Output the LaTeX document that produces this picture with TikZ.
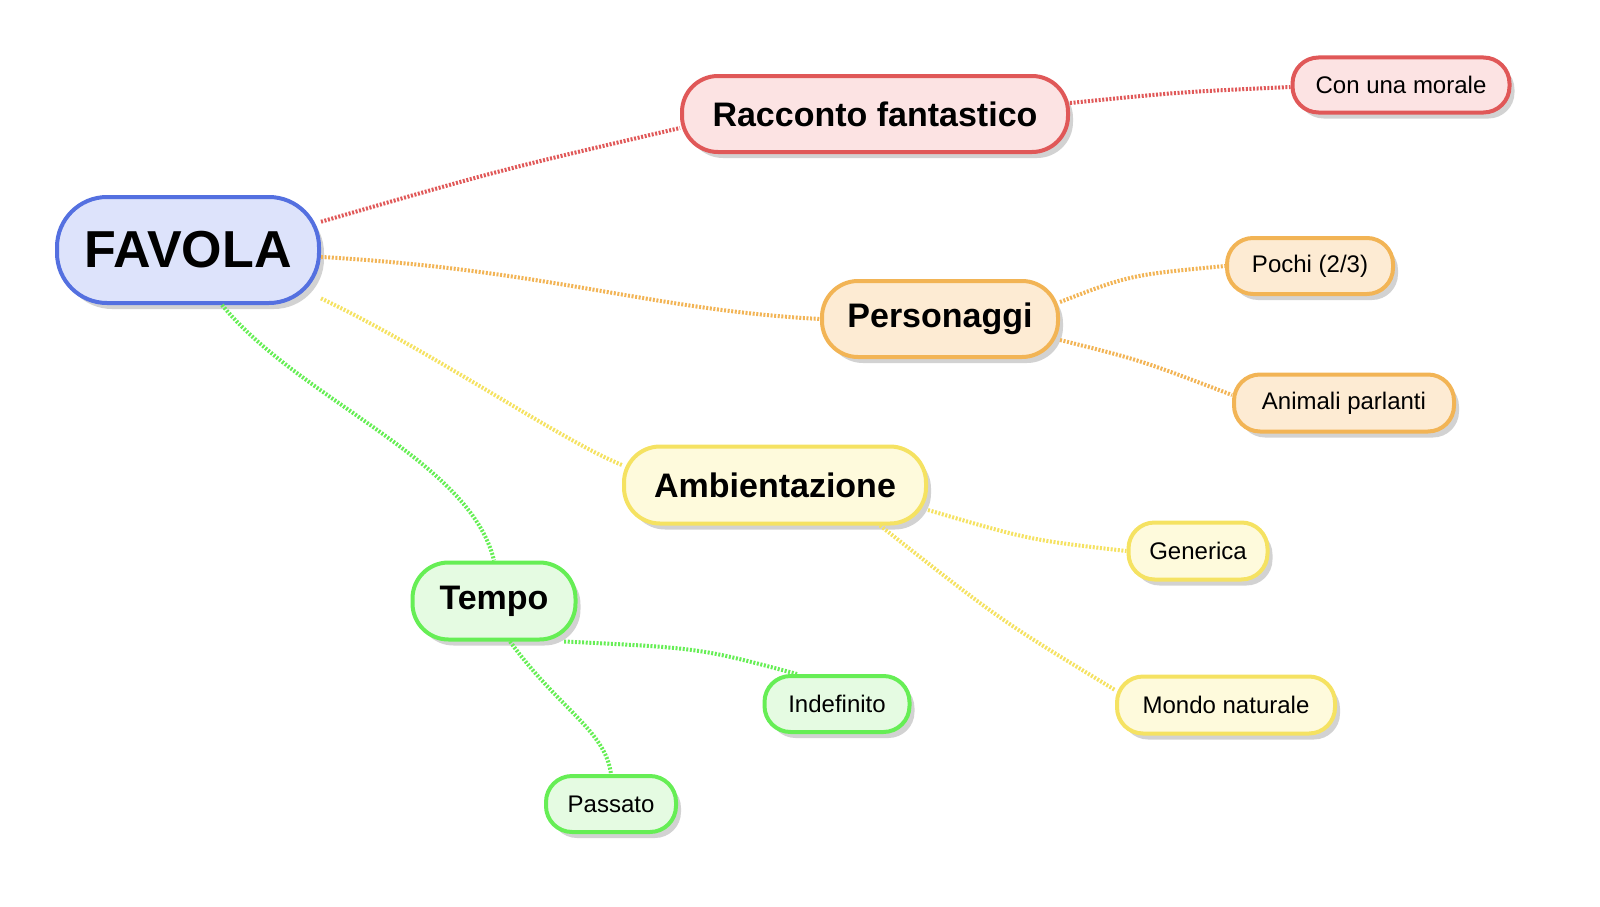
\documentclass[tikz,border=0pt]{standalone}
\usepackage{fontspec}
\setmainfont{Liberation Sans}
\usetikzlibrary{shadows}
\definecolor{bB}{HTML}{5470E0}\definecolor{fB}{HTML}{DDE3FB}
\definecolor{bR}{HTML}{E05858}\definecolor{fR}{HTML}{FCE3E3}
\definecolor{bO}{HTML}{F2B455}\definecolor{fO}{HTML}{FDEBD3}
\definecolor{bY}{HTML}{F5E262}\definecolor{fY}{HTML}{FEFADC}
\definecolor{bG}{HTML}{66EE55}\definecolor{fG}{HTML}{E5FBE2}
\tikzset{
 box/.style={draw=#1, line width=4pt, rounded corners=26pt, drop shadow={shadow xshift=5pt, shadow yshift=-6pt, fill=black!35, opacity=0.5}, inner sep=0pt},
 big/.style={font=\bfseries\fontsize{34}{37}\selectfont, rounded corners=36pt},
 small/.style={font=\fontsize{24}{26}\selectfont},
 link/.style={draw=#1, line width=4pt, dash pattern=on 2pt off 1.6pt},
}
\begin{document}
\begin{tikzpicture}[x=1pt,y=-1pt]
\node[box=bB, fill=fB, rounded corners=50pt, minimum width=262pt, minimum height=106pt, font=\bfseries\fontsize{52}{56}\selectfont] (fav) at (188,250) {FAVOLA};
\node[box=bR, fill=fR, big, minimum width=386pt, minimum height=76pt] (rac) at (875,114) {Racconto fantastico};
\node[box=bR, fill=fR, small, minimum width=217pt, minimum height=55pt] (con) at (1401,85) {Con una morale};
\node[box=bO, fill=fO, big, minimum width=236pt, minimum height=76pt] (per) at (940,319) {Personaggi};
\node[box=bO, fill=fO, small, minimum width=166pt, minimum height=56pt] (poc) at (1310,266) {Pochi (2/3)};
\node[box=bO, fill=fO, small, minimum width=220pt, minimum height=57pt] (ani) at (1344,403) {Animali parlanti};
\node[box=bY, fill=fY, big, minimum width=302pt, minimum height=77pt] (amb) at (775,485) {Ambientazione};
\node[box=bY, fill=fY, small, minimum width=139pt, minimum height=57pt] (gen) at (1198,551) {Generica};
\node[box=bY, fill=fY, small, minimum width=218pt, minimum height=57pt] (mon) at (1226,705) {Mondo naturale};
\node[box=bG, fill=fG, big, minimum width=163pt, minimum height=77pt] (tem) at (494,601) {Tempo};
\node[box=bG, fill=fG, small, minimum width=145pt, minimum height=56pt] (ind) at (837,704) {Indefinito};
\node[box=bG, fill=fG, small, minimum width=130pt, minimum height=56pt] (pas) at (611,804) {Passato};
\draw[link=bR] (fav.12) .. controls (500,170) .. (rac.west |- 0,128);
\draw[link=bR] (rac.east |- 0,103) .. controls (1180,92) .. (con.west |- 0,87);
\draw[link=bO] (fav.-3) .. controls (550,270) and (650,310) .. (per.west);
\draw[link=bO] (per.east |- 0,302) .. controls (1130,275) .. (poc.west);
\draw[link=bO] (per.east |- 0,340) .. controls (1140,360) .. (ani.west |- 0,395);
\draw[link=bY] (fav.-20) .. controls (430,350) and (560,440) .. (amb.west |- 0,465);
\draw[link=bY] (amb.east |- 0,510) .. controls (1030,540) .. (gen.west);
\draw[link=bY] ([xshift=-48pt]amb.south east) .. controls (1000,620) .. (mon.west |- 0,690);
\draw[link=bG] ([xshift=34pt]fav.south) .. controls (300,400) and (470,460) .. (tem.north);
\draw[link=bG] (tem.-30) .. controls (700,648) .. ([xshift=-40pt]ind.north);
\draw[link=bG] ([xshift=16pt]tem.south) .. controls (560,710) and (605,730) .. (pas.north);
\pgfresetboundingbox
\useasboundingbox (0,0) rectangle (1600,907);
\end{tikzpicture}
\end{document}
